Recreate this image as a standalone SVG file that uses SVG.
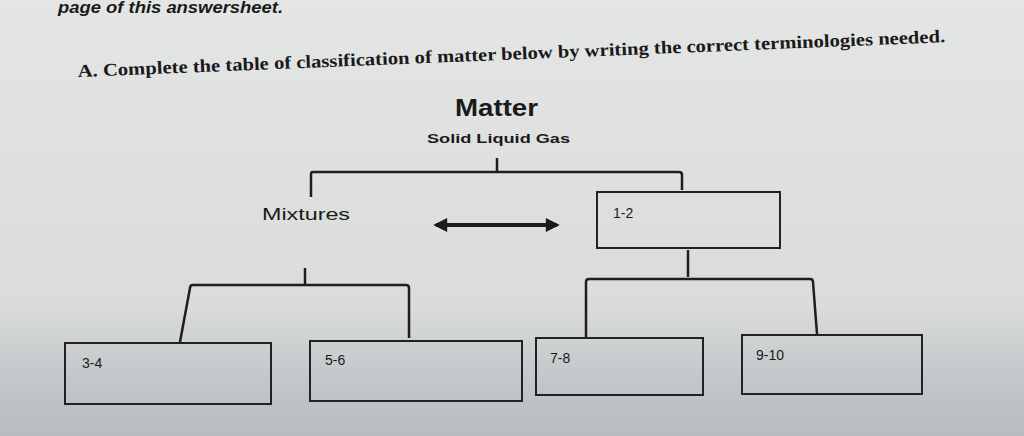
<svg xmlns="http://www.w3.org/2000/svg" width="1024" height="436" viewBox="0 0 1024 436">
<defs>
<linearGradient id="paper" x1="0" y1="0" x2="0" y2="1">
<stop offset="0" stop-color="#e4e5e5"/>
<stop offset="0.7" stop-color="#dadcdc"/>
<stop offset="0.85" stop-color="#c6c9cb"/>
<stop offset="1" stop-color="#b8bbbf"/>
</linearGradient>
<marker id="ah" viewBox="0 0 10 10" refX="8" refY="5" markerWidth="4" markerHeight="3.5" orient="auto-start-reverse" markerUnits="strokeWidth">
<path d="M0,0 L10,5 L0,10 z" fill="#1a1a1a"/>
</marker>
<style>
.box{fill:none;stroke:#222;stroke-width:2}
.ln{fill:none;stroke:#1e1e1e;stroke-width:2.5;stroke-linejoin:round}
.lbl{font-family:"Liberation Sans",Arial,sans-serif;font-size:14px;fill:#1a1a1a}
.sans{font-family:"Liberation Sans",Arial,sans-serif;fill:#1a1a1a}
.serif{font-family:"Liberation Serif","Times New Roman",serif;font-weight:bold;fill:#1a1a1a}
</style>
</defs>
<rect width="1024" height="436" fill="url(#paper)"/>
<text x="58" y="13" class="sans" font-size="16" font-weight="bold" font-style="italic" textLength="225" lengthAdjust="spacingAndGlyphs">page of this answersheet.</text>
<text x="78" y="77" class="serif" font-size="18" transform="rotate(-2.3 78 77)" textLength="868" lengthAdjust="spacingAndGlyphs">A.  Complete the table of classification of matter below by writing the correct terminologies needed.</text>

<g id="matter">
<text x="455" y="116" class="sans" font-size="23" font-weight="bold" textLength="83" lengthAdjust="spacingAndGlyphs">Matter</text>
<text x="427" y="143" class="sans" font-size="12" font-weight="bold" textLength="143" lengthAdjust="spacingAndGlyphs">Solid  Liquid  Gas</text>
</g>
<g id="mixtures">
<text x="262" y="220" class="sans" font-size="16" textLength="88" lengthAdjust="spacingAndGlyphs">Mixtures</text>
</g>
<g id="n1-2">
<rect x="597" y="192" width="183" height="56" class="box"/>
<text x="613" y="218" class="lbl">1-2</text>
</g>
<g id="n3-4">
<rect x="65" y="343" width="206" height="61" class="box"/>
<text x="82" y="368" class="lbl">3-4</text>
</g>
<g id="n5-6">
<rect x="310" y="341" width="212" height="60" class="box"/>
<text x="325" y="365" class="lbl">5-6</text>
</g>
<g id="n7-8">
<rect x="536" y="338" width="167" height="57" class="box"/>
<text x="550" y="363" class="lbl">7-8</text>
</g>
<g id="n9-10">
<rect x="742" y="335" width="180" height="59" class="box"/>
<text x="756" y="360" class="lbl">9-10</text>
</g>

<g id="connectors">
<path d="M497,158 V172" class="ln"/>
<path d="M311,197 V174 Q311,172 313,172 H679 Q682,172 682,175 V190" class="ln"/>
<path d="M436,225 H557" class="ln" style="stroke-width:4" marker-start="url(#ah)" marker-end="url(#ah)"/>
<path d="M305,268 V284" class="ln"/>
<path d="M180,342 L190,288 Q190,285 193,285 H406 Q409,285 409,288 V338" class="ln"/>
<path d="M688,250 V277" class="ln"/>
<path d="M586,337 V282 Q586,279 589,279 H810 Q813,279 813,282 L817,334" class="ln"/>
</g>
</svg>
